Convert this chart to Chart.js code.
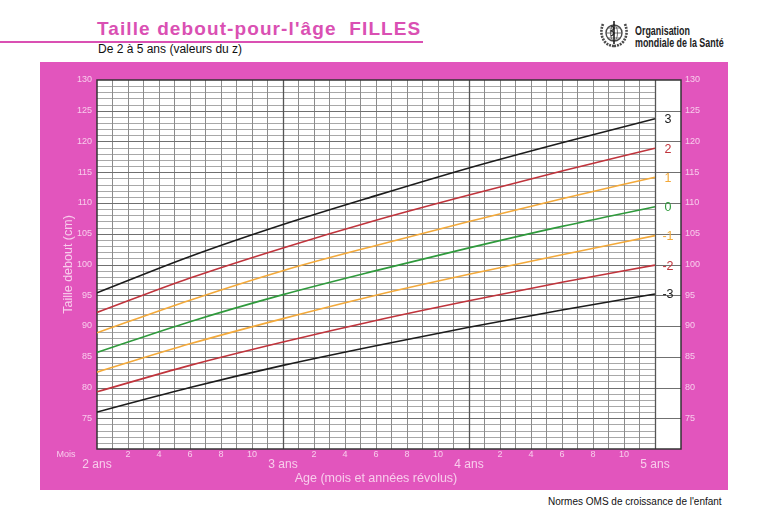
<!DOCTYPE html>
<html lang="fr">
<head>
<meta charset="utf-8">
<script src="https://cdn.jsdelivr.net/npm/chart.js@4/dist/chart.umd.min.js"></script>
<style>
  html, body { margin: 0; padding: 0; background: #ffffff; }
  body { width: 768px; height: 525px; position: relative; overflow: hidden; font-family: "Liberation Sans", Arial, sans-serif; }
  #titre { position: absolute; left: 97px; top: 18px; font-size: 19px; letter-spacing: 1.1px; font-weight: bold; color: #da50b3; white-space: pre; }
  #trait { position: absolute; left: 0; top: 41px; width: 423px; height: 2px; background: #da50b3; }
  #soustitre { position: absolute; left: 98px; top: 42px; font-size: 12px; color: #111; }
  #logo { position: absolute; left: 598px; top: 19px; }
  #oms { position: absolute; left: 635px; top: 25px; font-size: 13.5px; font-weight: bold; line-height: 12px; color: #222; white-space: nowrap; transform: scaleX(0.66); transform-origin: left top; }
  #pied { position: absolute; left: 548px; top: 496px; font-size: 10px; color: #111; }
  #graphe { position: absolute; left: 40px; top: 62px; background: #e255bd; }
</style>
</head>
<body>
<div id="titre">Taille debout-pour-l'âge  FILLES</div>
<div id="trait"></div>
<div id="soustitre">De 2 à 5 ans (valeurs du z)</div>
<svg id="logo" width="32" height="30" viewBox="0 0 32 30">
  <g fill="none" stroke="#4a4a4a">
    <circle cx="16" cy="14" r="8" stroke-width="1.4"/>
    <ellipse cx="16" cy="14" rx="3.5" ry="8" stroke-width="0.8"/>
    <line x1="8" y1="14" x2="24" y2="14" stroke-width="0.8"/>
    <path d="M9.5 9 H22.5 M9.5 19 H22.5" stroke-width="0.7"/>
    <path d="M5 5 Q1 15 7 23 Q11 27 16 27" stroke-width="2.6" stroke-dasharray="2 1"/>
    <path d="M27 5 Q31 15 25 23 Q21 27 16 27" stroke-width="2.6" stroke-dasharray="2 1"/>
    <line x1="16" y1="2" x2="16" y2="25" stroke="#222" stroke-width="1.6"/>
    <path d="M13 7 Q19 9 13 12 Q19 14 13 17" stroke="#222" stroke-width="1.3"/>
  </g>
</svg>
<div id="oms">Organisation<br>mondiale de la Santé</div>
<canvas id="graphe" width="688" height="428"></canvas>
<div id="pied">Normes OMS de croissance de l'enfant</div>
<script>
// Valeurs (âge en mois, taille en cm)
const ageMois = [24, 30, 36, 42, 48, 54, 60];
const zMoins3 = [76.0, 80.0, 83.6, 86.8, 89.8, 92.6, 95.2];
const zMoins2 = [79.3, 83.6, 87.4, 90.9, 94.1, 97.1, 99.9];
const zMoins1 = [82.5, 87.1, 91.2, 95.0, 98.4, 101.6, 104.7];
const zMediane = [85.7, 90.7, 95.1, 99.0, 102.7, 106.2, 109.4];
const zPlus1 = [88.9, 94.2, 99.0, 103.1, 107.0, 110.7, 114.2];
const zPlus2 = [92.2, 97.8, 102.7, 107.2, 111.3, 115.2, 118.9];
const zPlus3 = [95.4, 101.3, 106.5, 111.2, 115.7, 119.8, 123.7];

const etiquettesZ = ['3', '2', '1', '0', '-1', '-2', '-3'];
const etiquettesAns = ['2 ans', '3 ans', '4 ans', '5 ans'];
const etiquettesMois = [2, 4, 6, 8, 10];
const graduationsY = [75, 80, 85, 90, 95, 100, 105, 110, 115, 120, 125, 130];

const couleurs = {
  noir: '#1c1c1c',
  rouge: '#c0343c',
  orange: '#f3a93a',
  vert: '#2f9a3c',
  texteClair: '#f8cdec'
};

const serie = (valeurs, couleur, label) => ({
  label,
  data: ageMois.map((x, i) => ({ x, y: valeurs[i] })),
  borderColor: couleur,
  borderWidth: 1.6,
  pointRadius: 0,
  fill: false,
  cubicInterpolationMode: 'monotone'
});

const datasets = [
  serie(zPlus3, couleurs.noir, '3'),
  serie(zPlus2, couleurs.rouge, '2'),
  serie(zPlus1, couleurs.orange, '1'),
  serie(zMediane, couleurs.vert, '0'),
  serie(zMoins1, couleurs.orange, '-1'),
  serie(zMoins2, couleurs.rouge, '-2'),
  serie(zMoins3, couleurs.noir, '-3')
];

// Grille millimétrée + textes autour de la zone de tracé
const grillePlugin = {
  id: 'grille',
  beforeDatasetsDraw(chart) {
    const { ctx, chartArea: a, scales: { x, y } } = chart;
    const x60 = x.getPixelForValue(60);
    ctx.save();
    ctx.fillStyle = '#ffffff';
    ctx.fillRect(a.left, a.top, a.right - a.left, a.bottom - a.top);

    // lignes fines : 1 cm et 1 mois
    ctx.lineWidth = 1;
    ctx.strokeStyle = '#a8a8a8';
    for (let v = 71; v < 130; v++) {
      if (v % 5 === 0) continue;
      const py = Math.round(y.getPixelForValue(v)) + 0.5;
      ctx.beginPath(); ctx.moveTo(a.left, py); ctx.lineTo(x60, py); ctx.stroke();
    }
    ctx.strokeStyle = '#8c8c8c';
    for (let m = 25; m < 60; m++) {
      if (m % 12 === 0) continue;
      const px = Math.round(x.getPixelForValue(m)) + 0.5;
      ctx.beginPath(); ctx.moveTo(px, a.top); ctx.lineTo(px, a.bottom); ctx.stroke();
    }
    // lignes de 5 cm sur toute la largeur
    ctx.strokeStyle = '#707070';
    for (let v = 75; v < 130; v += 5) {
      const py = Math.round(y.getPixelForValue(v)) + 0.5;
      ctx.beginPath(); ctx.moveTo(a.left, py); ctx.lineTo(a.right, py); ctx.stroke();
    }
    // années
    ctx.strokeStyle = '#555555';
    ctx.lineWidth = 1.3;
    [36, 48, 60].forEach(m => {
      const px = Math.round(x.getPixelForValue(m)) + 0.5;
      ctx.beginPath(); ctx.moveTo(px, a.top); ctx.lineTo(px, a.bottom); ctx.stroke();
    });
    // cadre
    ctx.strokeStyle = '#333333';
    ctx.lineWidth = 1.5;
    ctx.strokeRect(a.left, a.top, a.right - a.left, a.bottom - a.top);
    ctx.restore();
  },
  afterDraw(chart) {
    const { ctx, chartArea: a, scales: { x, y } } = chart;
    ctx.save();
    ctx.fillStyle = couleurs.texteClair;
    ctx.textBaseline = 'middle';

    // graduations verticales à gauche et à droite
    ctx.font = '9px "Liberation Sans", Arial, sans-serif';
    graduationsY.forEach(v => {
      const py = y.getPixelForValue(v);
      ctx.textAlign = 'right';
      ctx.fillText(String(v), a.left - 5, py);
      ctx.textAlign = 'left';
      ctx.fillText(String(v), a.right + 4, py);
    });

    // mois
    ctx.textAlign = 'center';
    ctx.font = '9px "Liberation Sans", Arial, sans-serif';
    [24, 36, 48].forEach(debut => {
      etiquettesMois.forEach(m => {
        ctx.fillText(String(m), x.getPixelForValue(debut + m), a.bottom + 6);
      });
    });
    ctx.fillText('Mois', a.left - 31, a.bottom + 6);

    // années
    ctx.font = '12px "Liberation Sans", Arial, sans-serif';
    etiquettesAns.forEach((t, i) => {
      ctx.fillText(t, x.getPixelForValue(24 + 12 * i), a.bottom + 16);
    });

    // titres des axes
    ctx.font = '12.5px "Liberation Sans", Arial, sans-serif';
    ctx.fillText('Age (mois et années révolus)', x.getPixelForValue(42), a.bottom + 30);
    ctx.save();
    ctx.translate(a.left - 28, (a.top + a.bottom) / 2);
    ctx.rotate(-Math.PI / 2);
    ctx.fillText('Taille debout (cm)', 0, 0);
    ctx.restore();

    // valeurs z en bout de courbe
    ctx.font = '12.5px "Liberation Sans", Arial, sans-serif';
    chart.data.datasets.forEach((ds, i) => {
      const fin = ds.data[ds.data.length - 1];
      ctx.fillStyle = ds.borderColor;
      ctx.fillText(etiquettesZ[i], x.getPixelForValue(60) + 13, y.getPixelForValue(fin.y) + 1);
    });
    ctx.restore();
  }
};

new Chart(document.getElementById('graphe'), {
  type: 'line',
  data: { datasets },
  plugins: [grillePlugin],
  options: {
    responsive: false,
    animation: false,
    layout: { padding: { left: 57, top: 18, right: 47, bottom: 41 } },
    plugins: { legend: { display: false }, tooltip: { enabled: false } },
    scales: {
      x: { type: 'linear', min: 24, max: 61.68, display: false },
      y: { type: 'linear', min: 70, max: 130, display: false }
    }
  }
});
</script>
</body>
</html>
